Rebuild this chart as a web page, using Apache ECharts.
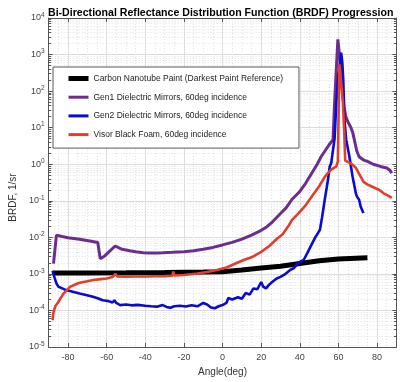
<!DOCTYPE html>
<html>
<head>
<meta charset="utf-8">
<script src="https://cdn.jsdelivr.net/npm/echarts@6/dist/echarts.min.js"></script>
<style>
html,body{margin:0;padding:0;background:#fff;}
#chart{width:400px;height:382px;}
</style>
</head>
<body>
<div id="chart"></div>
<script>
// ---------- data ----------
const seriesNames = [
  'Carbon Nanotube Paint (Darkest Paint Reference)',
  'Gen1 Dielectric Mirrors, 60deg incidence',
  'Gen2 Dielectric Mirrors, 60deg incidence',
  'Visor Black Foam, 60deg incidence'
];
const xTicks = [-80, -60, -40, -20, 0, 20, 40, 60, 80];

const cntAngles = [-88, -70, -50, -30, -10, 0, 10, 20, 30, 40, 50, 60, 75];
const cntValues = [1.05e-3, 1.06e-3, 1.07e-3, 1.09e-3, 1.12e-3, 1.15e-3, 1.28e-3, 1.45e-3, 1.62e-3, 1.92e-3, 2.3e-3, 2.55e-3, 2.75e-3];

const gen1Angles = [-87.5, -86, -85, -83, -80, -74, -68, -64.6, -63.3, -61, -59.5, -55.6, -52, -48, -45, -41, -38, -34, -31, -26, -20, -15, -10, -5, 0, 5, 10, 15, 19, 23, 26, 30, 33, 36, 40, 43, 46, 49, 51, 55, 57.2, 58, 58.9, 59.7, 60.6, 61.4, 62.3, 62.8, 63.8, 65, 66.5, 67.5, 68.5, 69.5, 70.7, 73, 75, 78, 81.7, 85, 86.5, 87.6];
const gen1Values = [1.9e-3, 1.15e-2, 1.1e-2, 1.05e-2, 9.8e-3, 8.9e-3, 7.8e-3, 7.2e-3, 2.6e-3, 3.1e-3, 3.7e-3, 5.8e-3, 4.7e-3, 4.3e-3, 4.05e-3, 3.8e-3, 3.7e-3, 3.75e-3, 3.8e-3, 3.9e-3, 4.05e-3, 4.3e-3, 4.7e-3, 5.3e-3, 6.2e-3, 7.3e-3, 8.9e-3, 1.15e-2, 1.45e-2, 1.95e-2, 2.7e-2, 4.5e-2, 6.5e-2, 0.11, 0.18, 0.3, 0.55, 1.0, 1.6, 3.3, 4.7, 48, 400, 2600, 900, 300, 80, 40, 20, 14, 10, 7, 4, 2.3, 1.6, 1.3, 1.2, 1.0, 0.87, 0.79, 0.7, 0.57];

const gen2Angles = [-88, -87, -86, -85, -84, -81, -74, -68, -65, -62, -61, -59, -57, -56, -55, -53, -50, -47, -44, -40, -37, -34, -31, -29, -27, -25, -22, -19, -16, -13, -10, -8, -6, -4, -2, 0, 2, 3, 5, 8, 10, 12, 14, 16, 18, 20, 21, 22.5, 24, 26, 28, 30, 32, 35, 37, 39, 42, 44, 46.2, 48, 50.4, 51.5, 52.9, 54.6, 55.5, 56.3, 57.2, 58, 58.9, 60, 60.5, 61.4, 62, 62.5, 63.1, 64, 65.6, 67.3, 69, 69.6, 70.7, 71.5, 72.2, 72.9];
const gen2Values = [1.2e-3, 8e-4, 5.5e-4, 4.5e-4, 4e-4, 3.6e-4, 2.9e-4, 2.45e-4, 2.2e-4, 1.9e-4, 1.75e-4, 1.8e-4, 1.65e-4, 1.9e-4, 1.6e-4, 1.4e-4, 1.45e-4, 1.38e-4, 1.42e-4, 1.35e-4, 1.3e-4, 1.27e-4, 1.4e-4, 1.25e-4, 1.18e-4, 1.3e-4, 1.35e-4, 1.28e-4, 1.38e-4, 1.3e-4, 1.6e-4, 1.45e-4, 1.2e-4, 1.15e-4, 1.3e-4, 1.4e-4, 1.6e-4, 2.2e-4, 2.0e-4, 2.3e-4, 2.1e-4, 3.0e-4, 2.7e-4, 4e-4, 3.8e-4, 6e-4, 4.5e-4, 4e-4, 5e-4, 6.2e-4, 7.5e-4, 8.3e-4, 9.5e-4, 1.28e-3, 1.45e-3, 2e-3, 2.4e-3, 3.8e-3, 6.5e-3, 1e-2, 1.6e-2, 3.5e-2, 0.107, 0.38, 0.87, 1.1, 2.5, 5, 48, 300, 400, 1130, 600, 200, 16.5, 4.7, 1.7, 0.46, 0.16, 0.13, 0.107, 0.07, 0.065, 0.046];

const visorAngles = [-88, -87.5, -86.6, -85, -84, -82.3, -79, -76, -74, -70, -67, -63, -60, -57, -55.5, -54.5, -50, -45, -40, -35, -30, -26, -25.5, -25, -20, -13, -8, -3, 2, 7, 11, 15.7, 20, 24.2, 28, 31, 34, 36, 39.4, 43, 46.2, 50, 53, 56, 58.9, 59.7, 60.1, 60.5, 61.5, 62.3, 63, 63.5, 65.6, 67, 69, 71.5, 73, 74.9, 77, 79.2, 81, 83.4, 85.5, 87.6];
const visorValues = [5.4e-5, 9e-5, 1.3e-4, 1.7e-4, 2.1e-4, 2.9e-4, 4.4e-4, 5.2e-4, 5.7e-4, 6.3e-4, 6.8e-4, 7.2e-4, 7.5e-4, 8.2e-4, 1e-3, 8.5e-4, 8.4e-4, 8.5e-4, 8.5e-4, 8.6e-4, 8.7e-4, 8.9e-4, 1.15e-3, 9e-4, 9.3e-4, 1.02e-3, 1.12e-3, 1.27e-3, 1.5e-3, 1.95e-3, 2.4e-3, 2.95e-3, 4e-3, 5.8e-3, 9e-3, 1.2e-2, 2e-2, 3e-2, 4.6e-2, 7.5e-2, 0.13, 0.25, 0.46, 0.7, 0.87, 1.2, 30, 540, 150, 48, 8, 1.25, 1.1, 1.0, 0.8, 0.46, 0.33, 0.28, 0.25, 0.22, 0.2, 0.16, 0.14, 0.12];

// ---------- chart ----------
function zip(xs, ys) { return xs.map((x, i) => [x, ys[i]]); }

const FONT = '"Liberation Sans", Arial, Helvetica, sans-serif';
const AXIS_COLOR = '#555555';
const MAJOR_GRID = '#dcdcdc';
const MINOR_GRID = '#e2e2e2';
const COLORS = ['#000000', '#6b2d90', '#0a0ad2', '#e23d2d'];
const WIDTHS = [5, 3, 2.6, 2.6];
const LEGEND_WIDTHS = [5, 3, 3, 3];

// minor grid positions (log10 of 2..9 within each decade), used on a helper linear axis
const minorExp = [];
for (let e = -5; e < 4; e++) {
  for (let m = 2; m <= 9; m++) minorExp.push(e + Math.log10(m));
}

const chart = echarts.init(document.getElementById('chart'), null, { renderer: 'canvas' });

const common = { min: -90, max: 90 };
const option = {
  animation: false,
  backgroundColor: '#ffffff',
  title: {
    text: 'Bi-Directional Reflectance Distribution Function (BRDF) Progression',
    left: 43, top: 3,
    textStyle: { fontFamily: FONT, fontWeight: 'bold', fontSize: 10.6, color: '#000' }
  },
  grid: { left: 41.6, right: 3.6, top: 18, bottom: 35, containLabel: false },
  legend: {
    orient: 'vertical', left: 53, top: 67,
    itemWidth: 20, itemHeight: 10, itemGap: 9.7,
    padding: [7, 16, 9, 13],
    backgroundColor: '#ffffff', borderColor: '#5a5a5a', borderWidth: 1,
    textStyle: { fontFamily: FONT, fontSize: 8.5, color: '#222' },
    itemStyle: { opacity: 0 },
    data: seriesNames.map((n, i) => ({ name: n, lineStyle: { width: LEGEND_WIDTHS[i], color: COLORS[i] } }))
  },
  xAxis: [
    {
      type: 'value', position: 'bottom', ...common, interval: 5,
      name: 'Angle(deg)', nameLocation: 'middle', nameGap: 19,
      nameTextStyle: { fontFamily: FONT, fontSize: 10, color: '#333' },
      axisLine: { show: true, onZero: false, lineStyle: { color: AXIS_COLOR, width: 1 } },
      axisTick: { show: true, inside: true, length: 4, customValues: xTicks, lineStyle: { color: AXIS_COLOR } },
      axisLabel: { customValues: xTicks, margin: 6, fontFamily: FONT, fontSize: 9, color: '#444' },
      splitLine: { show: true, lineStyle: { color: MAJOR_GRID, width: 1 } }
    },
    {
      type: 'value', position: 'top', ...common, interval: 5,
      axisLine: { show: true, onZero: false, lineStyle: { color: AXIS_COLOR, width: 1 } },
      axisTick: { show: true, inside: true, length: 4, customValues: xTicks, lineStyle: { color: AXIS_COLOR } },
      axisLabel: { show: false },
      splitLine: { show: false }
    },
    {
      type: 'value', position: 'bottom', ...common, interval: 5,
      axisLine: { show: false, onZero: false }, axisTick: { show: false }, axisLabel: { show: false },
      splitLine: { show: true, lineStyle: { color: MINOR_GRID, width: 1, type: [1, 2] } }
    }
  ],
  yAxis: [
    {
      type: 'log', logBase: 10, min: 1e-5, max: 1e4, position: 'left',
      name: 'BRDF, 1/sr', nameLocation: 'middle', nameGap: 25,
      nameTextStyle: { fontFamily: FONT, fontSize: 10, color: '#333', padding: [0, 30, 0, 0] },
      axisLine: { show: true, onZero: false, lineStyle: { color: AXIS_COLOR, width: 1 } },
      axisTick: { show: true, inside: true, length: 4, lineStyle: { color: AXIS_COLOR } },
      axisLabel: {
        margin: 4, fontFamily: FONT, color: '#444',
        formatter: function (v) {
          const e = Math.round(Math.log10(v));
          return '{b|10}{e|' + e + '}';
        },
        rich: {
          b: { fontFamily: FONT, fontSize: 9, color: '#444' },
          e: { fontFamily: FONT, fontSize: 6.5, color: '#444', padding: [0, 0, 6, 0] }
        }
      },
      splitLine: { show: true, lineStyle: { color: MAJOR_GRID, width: 1 } }
    },
    {
      type: 'log', logBase: 10, min: 1e-5, max: 1e4, position: 'right',
      axisLine: { show: true, onZero: false, lineStyle: { color: AXIS_COLOR, width: 1 } },
      axisTick: { show: true, inside: true, length: 4, lineStyle: { color: AXIS_COLOR } },
      axisLabel: { show: false }, splitLine: { show: false }
    },
    {
      type: 'value', min: -5, max: 4, position: 'left',
      axisLine: { show: false, onZero: false },
      axisTick: { show: true, inside: true, length: 2.5, customValues: minorExp, lineStyle: { color: AXIS_COLOR } },
      axisLabel: { show: false },
      splitLine: { show: true, lineStyle: { color: MINOR_GRID, width: 1, type: [1, 2] } }
    },
    {
      type: 'value', min: -5, max: 4, position: 'right',
      axisLine: { show: false, onZero: false },
      axisTick: { show: true, inside: true, length: 2.5, customValues: minorExp, lineStyle: { color: AXIS_COLOR } },
      axisLabel: { show: false }, splitLine: { show: false }
    }
  ],
  series: [
    [cntAngles, cntValues], [gen1Angles, gen1Values], [gen2Angles, gen2Values], [visorAngles, visorValues]
  ].map((d, i) => ({
    name: seriesNames[i], type: 'line', symbol: 'none', data: zip(d[0], d[1]),
    lineStyle: { color: COLORS[i], width: WIDTHS[i] }, itemStyle: { color: COLORS[i] }
  }))
};
chart.setOption(option);
</script>
</body>
</html>
